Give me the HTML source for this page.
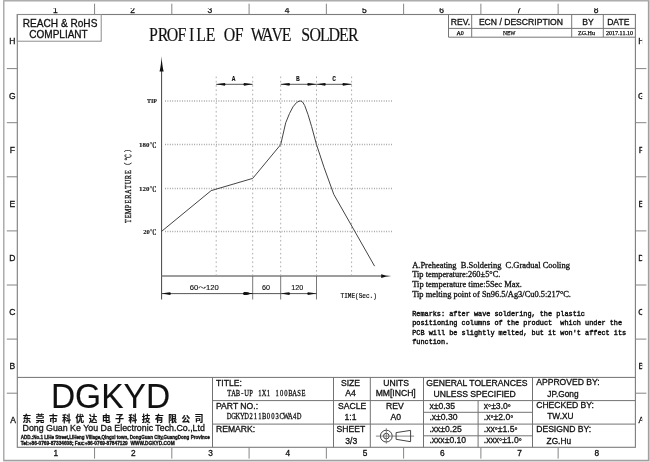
<!DOCTYPE html>
<html lang="en"><head><meta charset="utf-8"><title>PROFILE OF WAVE SOLDER</title>
<style>html,body{margin:0;padding:0;background:#fff;}body{width:650px;height:462px;overflow:hidden;}svg{display:block;}</style></head>
<body>
<svg width="650" height="462" viewBox="0 0 650 462" shape-rendering="auto">
<rect x="0" y="0" width="650" height="462" fill="#fff"/>
<defs><clipPath id="cpT"><rect x="0" y="8.3" width="650" height="10"/></clipPath><clipPath id="cpR"><rect x="630" y="0" width="12.2" height="462"/></clipPath></defs>
<rect x="649" y="0" width="1" height="462" fill="#d2d2d2"/>
<rect x="3.2" y="461" width="646.8" height="1" fill="#dadada"/>
<rect x="3.8" y="0.8" width="644.7" height="459.59999999999997" stroke="#a0a0a0" stroke-width="1.3" fill="none"/>
<rect x="17.3" y="14.5" width="618.1" height="432.8" stroke="#7c7c7c" stroke-width="1.1" fill="none"/>
<line x1="94.5625" y1="3.7" x2="94.5625" y2="14.5" stroke="#858585" stroke-width="1" />
<line x1="94.5625" y1="447.3" x2="94.5625" y2="458.6" stroke="#858585" stroke-width="1" />
<line x1="6.8" y1="68.6" x2="17.3" y2="68.6" stroke="#858585" stroke-width="1" />
<line x1="635.4" y1="68.6" x2="646.4" y2="68.6" stroke="#858585" stroke-width="1" />
<line x1="171.82500000000002" y1="3.7" x2="171.82500000000002" y2="14.5" stroke="#858585" stroke-width="1" />
<line x1="171.82500000000002" y1="447.3" x2="171.82500000000002" y2="458.6" stroke="#858585" stroke-width="1" />
<line x1="6.8" y1="122.7" x2="17.3" y2="122.7" stroke="#858585" stroke-width="1" />
<line x1="635.4" y1="122.7" x2="646.4" y2="122.7" stroke="#858585" stroke-width="1" />
<line x1="249.08750000000003" y1="3.7" x2="249.08750000000003" y2="14.5" stroke="#858585" stroke-width="1" />
<line x1="249.08750000000003" y1="447.3" x2="249.08750000000003" y2="458.6" stroke="#858585" stroke-width="1" />
<line x1="6.8" y1="176.8" x2="17.3" y2="176.8" stroke="#858585" stroke-width="1" />
<line x1="635.4" y1="176.8" x2="646.4" y2="176.8" stroke="#858585" stroke-width="1" />
<line x1="326.35" y1="3.7" x2="326.35" y2="14.5" stroke="#858585" stroke-width="1" />
<line x1="326.35" y1="447.3" x2="326.35" y2="458.6" stroke="#858585" stroke-width="1" />
<line x1="6.8" y1="230.9" x2="17.3" y2="230.9" stroke="#858585" stroke-width="1" />
<line x1="635.4" y1="230.9" x2="646.4" y2="230.9" stroke="#858585" stroke-width="1" />
<line x1="403.6125" y1="3.7" x2="403.6125" y2="14.5" stroke="#858585" stroke-width="1" />
<line x1="403.6125" y1="447.3" x2="403.6125" y2="458.6" stroke="#858585" stroke-width="1" />
<line x1="6.8" y1="285.0" x2="17.3" y2="285.0" stroke="#858585" stroke-width="1" />
<line x1="635.4" y1="285.0" x2="646.4" y2="285.0" stroke="#858585" stroke-width="1" />
<line x1="480.87500000000006" y1="3.7" x2="480.87500000000006" y2="14.5" stroke="#858585" stroke-width="1" />
<line x1="480.87500000000006" y1="447.3" x2="480.87500000000006" y2="458.6" stroke="#858585" stroke-width="1" />
<line x1="6.8" y1="339.1" x2="17.3" y2="339.1" stroke="#858585" stroke-width="1" />
<line x1="635.4" y1="339.1" x2="646.4" y2="339.1" stroke="#858585" stroke-width="1" />
<line x1="558.1374999999999" y1="3.7" x2="558.1374999999999" y2="14.5" stroke="#858585" stroke-width="1" />
<line x1="558.1374999999999" y1="447.3" x2="558.1374999999999" y2="458.6" stroke="#858585" stroke-width="1" />
<line x1="6.8" y1="393.2" x2="17.3" y2="393.2" stroke="#858585" stroke-width="1" />
<line x1="635.4" y1="393.2" x2="646.4" y2="393.2" stroke="#858585" stroke-width="1" />
<g clip-path="url(#cpT)">
<text x="55.3" y="13.3" font-family='"Liberation Sans", "Noto Sans CJK SC", sans-serif' font-size="8.5" text-anchor="middle" fill="#111"  stroke="#111" stroke-width="0.3">1</text>
<text x="132.6" y="13.3" font-family='"Liberation Sans", "Noto Sans CJK SC", sans-serif' font-size="8.5" text-anchor="middle" fill="#111"  stroke="#111" stroke-width="0.3">2</text>
<text x="209.9" y="13.3" font-family='"Liberation Sans", "Noto Sans CJK SC", sans-serif' font-size="8.5" text-anchor="middle" fill="#111"  stroke="#111" stroke-width="0.3">3</text>
<text x="287.1" y="13.3" font-family='"Liberation Sans", "Noto Sans CJK SC", sans-serif' font-size="8.5" text-anchor="middle" fill="#111"  stroke="#111" stroke-width="0.3">4</text>
<text x="364.4" y="13.3" font-family='"Liberation Sans", "Noto Sans CJK SC", sans-serif' font-size="8.5" text-anchor="middle" fill="#111"  stroke="#111" stroke-width="0.3">5</text>
<text x="441.6" y="13.3" font-family='"Liberation Sans", "Noto Sans CJK SC", sans-serif' font-size="8.5" text-anchor="middle" fill="#111"  stroke="#111" stroke-width="0.3">6</text>
<text x="518.9" y="13.3" font-family='"Liberation Sans", "Noto Sans CJK SC", sans-serif' font-size="8.5" text-anchor="middle" fill="#111"  stroke="#111" stroke-width="0.3">7</text>
<text x="596.2" y="13.3" font-family='"Liberation Sans", "Noto Sans CJK SC", sans-serif' font-size="8.5" text-anchor="middle" fill="#111"  stroke="#111" stroke-width="0.3">8</text>
</g>
<text x="55.9" y="455.7" font-family='"Liberation Sans", "Noto Sans CJK SC", sans-serif' font-size="8.3" text-anchor="middle" fill="#111"  stroke="#111" stroke-width="0.3">1</text>
<text x="133.2" y="455.7" font-family='"Liberation Sans", "Noto Sans CJK SC", sans-serif' font-size="8.3" text-anchor="middle" fill="#111"  stroke="#111" stroke-width="0.3">2</text>
<text x="210.5" y="455.7" font-family='"Liberation Sans", "Noto Sans CJK SC", sans-serif' font-size="8.3" text-anchor="middle" fill="#111"  stroke="#111" stroke-width="0.3">3</text>
<text x="287.7" y="455.7" font-family='"Liberation Sans", "Noto Sans CJK SC", sans-serif' font-size="8.3" text-anchor="middle" fill="#111"  stroke="#111" stroke-width="0.3">4</text>
<text x="365.0" y="455.7" font-family='"Liberation Sans", "Noto Sans CJK SC", sans-serif' font-size="8.3" text-anchor="middle" fill="#111"  stroke="#111" stroke-width="0.3">5</text>
<text x="442.2" y="455.7" font-family='"Liberation Sans", "Noto Sans CJK SC", sans-serif' font-size="8.3" text-anchor="middle" fill="#111"  stroke="#111" stroke-width="0.3">6</text>
<text x="519.5" y="455.7" font-family='"Liberation Sans", "Noto Sans CJK SC", sans-serif' font-size="8.3" text-anchor="middle" fill="#111"  stroke="#111" stroke-width="0.3">7</text>
<text x="596.8" y="455.7" font-family='"Liberation Sans", "Noto Sans CJK SC", sans-serif' font-size="8.3" text-anchor="middle" fill="#111"  stroke="#111" stroke-width="0.3">8</text>
<text x="12.3" y="44.4" font-family='"Liberation Sans", "Noto Sans CJK SC", sans-serif' font-size="8.5" text-anchor="middle" fill="#111"  stroke="#111" stroke-width="0.3">H</text>
<text x="12.3" y="98.6" font-family='"Liberation Sans", "Noto Sans CJK SC", sans-serif' font-size="8.5" text-anchor="middle" fill="#111"  stroke="#111" stroke-width="0.3">G</text>
<text x="12.3" y="152.7" font-family='"Liberation Sans", "Noto Sans CJK SC", sans-serif' font-size="8.5" text-anchor="middle" fill="#111"  stroke="#111" stroke-width="0.3">F</text>
<text x="12.3" y="206.8" font-family='"Liberation Sans", "Noto Sans CJK SC", sans-serif' font-size="8.5" text-anchor="middle" fill="#111"  stroke="#111" stroke-width="0.3">E</text>
<text x="12.3" y="260.9" font-family='"Liberation Sans", "Noto Sans CJK SC", sans-serif' font-size="8.5" text-anchor="middle" fill="#111"  stroke="#111" stroke-width="0.3">D</text>
<text x="12.3" y="314.9" font-family='"Liberation Sans", "Noto Sans CJK SC", sans-serif' font-size="8.5" text-anchor="middle" fill="#111"  stroke="#111" stroke-width="0.3">C</text>
<text x="12.3" y="369.1" font-family='"Liberation Sans", "Noto Sans CJK SC", sans-serif' font-size="8.5" text-anchor="middle" fill="#111"  stroke="#111" stroke-width="0.3">B</text>
<text x="13.1" y="423.1" font-family='"Liberation Sans", "Noto Sans CJK SC", sans-serif' font-size="8.5" text-anchor="middle" fill="#111"  stroke="#111" stroke-width="0.3">A</text>
<g clip-path="url(#cpR)">
<text x="641.3" y="44.4" font-family='"Liberation Sans", "Noto Sans CJK SC", sans-serif' font-size="8.5" text-anchor="middle" fill="#111"  stroke="#111" stroke-width="0.3">H</text>
<text x="641.3" y="98.6" font-family='"Liberation Sans", "Noto Sans CJK SC", sans-serif' font-size="8.5" text-anchor="middle" fill="#111"  stroke="#111" stroke-width="0.3">G</text>
<text x="641.3" y="152.7" font-family='"Liberation Sans", "Noto Sans CJK SC", sans-serif' font-size="8.5" text-anchor="middle" fill="#111"  stroke="#111" stroke-width="0.3">F</text>
<text x="641.3" y="206.8" font-family='"Liberation Sans", "Noto Sans CJK SC", sans-serif' font-size="8.5" text-anchor="middle" fill="#111"  stroke="#111" stroke-width="0.3">E</text>
<text x="641.3" y="260.9" font-family='"Liberation Sans", "Noto Sans CJK SC", sans-serif' font-size="8.5" text-anchor="middle" fill="#111"  stroke="#111" stroke-width="0.3">D</text>
<text x="641.3" y="314.9" font-family='"Liberation Sans", "Noto Sans CJK SC", sans-serif' font-size="8.5" text-anchor="middle" fill="#111"  stroke="#111" stroke-width="0.3">C</text>
<text x="641.3" y="369.1" font-family='"Liberation Sans", "Noto Sans CJK SC", sans-serif' font-size="8.5" text-anchor="middle" fill="#111"  stroke="#111" stroke-width="0.3">B</text>
<text x="641.3" y="423.1" font-family='"Liberation Sans", "Noto Sans CJK SC", sans-serif' font-size="8.5" text-anchor="middle" fill="#111"  stroke="#111" stroke-width="0.3">A</text>
</g>
<rect x="17.3" y="14.5" width="83.9" height="26.700000000000003" stroke="#8c8c8c" stroke-width="1" fill="none"/>
<text x="60.1" y="26.6" font-family='"Liberation Sans", "Noto Sans CJK SC", sans-serif' font-size="10.1" text-anchor="middle" fill="#111"  stroke="#111" stroke-width="0.3">REACH &amp; RoHS</text>
<text x="58.5" y="38.4" font-family='"Liberation Sans", "Noto Sans CJK SC", sans-serif' font-size="10.0" text-anchor="middle" fill="#111"  stroke="#111" stroke-width="0.3">COMPLIANT</text>
<text transform="translate(148.7,40.5) scale(0.82,1.0)" x="5.80 17.41 29.02 40.63 52.24 63.85 75.46 87.07 98.68 110.29 121.90 133.51 145.12 156.73 168.34 179.95 191.56 203.17 214.78 226.39 238.00 249.61" y="0" text-anchor="middle" font-family='"Liberation Serif", "Noto Serif CJK SC", serif' font-size="19.4" stroke="#111" stroke-width="0.15" fill="#111" xml:space="preserve">PROFILE OF WAVE SOLDER</text>
<line x1="448.5" y1="14.5" x2="448.5" y2="37.2" stroke="#777" stroke-width="1" />
<line x1="448.5" y1="28.4" x2="635.4" y2="28.4" stroke="#777" stroke-width="1" />
<line x1="448.5" y1="37.2" x2="635.4" y2="37.2" stroke="#777" stroke-width="1" />
<line x1="471.7" y1="14.5" x2="471.7" y2="37.2" stroke="#777" stroke-width="1" />
<line x1="571.7" y1="14.5" x2="571.7" y2="37.2" stroke="#777" stroke-width="1" />
<line x1="603.3" y1="14.5" x2="603.3" y2="37.2" stroke="#777" stroke-width="1" />
<text x="460.5" y="25.0" font-family='"Liberation Sans", "Noto Sans CJK SC", sans-serif' font-size="8.6" text-anchor="middle" fill="#111"  stroke="#111" stroke-width="0.3">REV.</text>
<text x="520.9" y="25.0" font-family='"Liberation Sans", "Noto Sans CJK SC", sans-serif' font-size="8.6" text-anchor="middle" fill="#111"  stroke="#111" stroke-width="0.3">ECN / DESCRIPTION</text>
<text x="587.9" y="25.0" font-family='"Liberation Sans", "Noto Sans CJK SC", sans-serif' font-size="8.6" text-anchor="middle" fill="#111"  stroke="#111" stroke-width="0.3">BY</text>
<text x="618.3" y="25.0" font-family='"Liberation Sans", "Noto Sans CJK SC", sans-serif' font-size="8.6" text-anchor="middle" fill="#111"  stroke="#111" stroke-width="0.3">DATE</text>
<text x="460.1" y="34.8" font-family='"Liberation Serif", "Noto Serif CJK SC", serif' font-size="6" text-anchor="middle" fill="#111"  stroke="#111" stroke-width="0.25">A0</text>
<text x="509.2" y="34.8" font-family='"Liberation Serif", "Noto Serif CJK SC", serif' font-size="6" text-anchor="middle" textLength="12.6" lengthAdjust="spacingAndGlyphs" fill="#111"  stroke="#111" stroke-width="0.25">NEW</text>
<text x="586.5" y="34.8" font-family='"Liberation Serif", "Noto Serif CJK SC", serif' font-size="6" text-anchor="middle" textLength="17.0" lengthAdjust="spacingAndGlyphs" fill="#111"  stroke="#111" stroke-width="0.25">ZG.Hu</text>
<text x="619.5" y="34.8" font-family='"Liberation Serif", "Noto Serif CJK SC", serif' font-size="6" text-anchor="middle" textLength="27.2" lengthAdjust="spacingAndGlyphs" fill="#111"  stroke="#111" stroke-width="0.25">2017.11.10</text>
<line x1="165" y1="100.9" x2="392" y2="100.9" stroke="#a0a0a0" stroke-width="1.5" stroke-dasharray="0.9 1.53"/>
<line x1="165" y1="144.6" x2="392" y2="144.6" stroke="#a0a0a0" stroke-width="1.5" stroke-dasharray="0.9 1.53"/>
<line x1="165" y1="188.5" x2="392" y2="188.5" stroke="#a0a0a0" stroke-width="1.5" stroke-dasharray="0.9 1.53"/>
<line x1="165" y1="231.5" x2="392" y2="231.5" stroke="#a0a0a0" stroke-width="1.5" stroke-dasharray="0.9 1.53"/>
<line x1="216.2" y1="76.5" x2="216.2" y2="275.1" stroke="#a8a8a8" stroke-width="0.9" stroke-dasharray="1.7 2.6"/>
<line x1="252.7" y1="76.5" x2="252.7" y2="275.1" stroke="#a8a8a8" stroke-width="0.9" stroke-dasharray="1.7 2.6"/>
<line x1="280.7" y1="76.5" x2="280.7" y2="275.1" stroke="#a8a8a8" stroke-width="0.9" stroke-dasharray="1.7 2.6"/>
<line x1="316.5" y1="76.5" x2="316.5" y2="275.1" stroke="#a8a8a8" stroke-width="0.9" stroke-dasharray="1.7 2.6"/>
<line x1="351.6" y1="76.5" x2="351.6" y2="275.1" stroke="#a8a8a8" stroke-width="0.9" stroke-dasharray="1.7 2.6"/>
<line x1="161.6" y1="70" x2="161.6" y2="299.5" stroke="#444" stroke-width="1" />
<line x1="161.6" y1="276.1" x2="383" y2="276.1" stroke="#7c7c7c" stroke-width="1.5" />
<path d="M161.6,56.2 Q161.0,66 159.5,71.6 L163.7,71.6 Q162.2,66 161.6,56.2 Z" fill="#111"/>
<path d="M391.4,276.1 Q385,275.6 381.2,274.20000000000005 L381.2,278.0 Q385,276.6 391.4,276.1 Z" fill="#111"/>
<polyline fill="none" stroke="#444" stroke-width="1" stroke-linejoin="round" points="161.4,231.5 211.2,190.6 252.7,178.4 280.7,144.6 285.7,122.8 289.5,113.5 293,106.8 296.5,102.6 299,101.2 300.8,101.0 302.6,102.0 304.7,105.5 308,114.5 311.6,126.5 316.5,144.6 324,167.3 333.8,194.4 374.6,266.2"/>
<line x1="216.2" y1="84.3" x2="252.7" y2="84.3" stroke="#444" stroke-width="0.9" />
<path d="M216.2,84.3 Q221.0,83.49 224.79999999999998,82.95 Q226.39999999999998,84.3 224.79999999999998,85.64999999999999 Q221.0,85.11 216.2,84.3 Z" fill="#111"/>
<path d="M252.7,84.3 Q247.89999999999998,83.49 244.1,82.95 Q242.5,84.3 244.1,85.64999999999999 Q247.89999999999998,85.11 252.7,84.3 Z" fill="#111"/>
<line x1="280.7" y1="84.3" x2="316.5" y2="84.3" stroke="#444" stroke-width="0.9" />
<path d="M280.7,84.3 Q285.5,83.49 289.3,82.95 Q290.90000000000003,84.3 289.3,85.64999999999999 Q285.5,85.11 280.7,84.3 Z" fill="#111"/>
<path d="M316.5,84.3 Q311.7,83.49 307.9,82.95 Q306.29999999999995,84.3 307.9,85.64999999999999 Q311.7,85.11 316.5,84.3 Z" fill="#111"/>
<line x1="316.5" y1="84.3" x2="351.6" y2="84.3" stroke="#444" stroke-width="0.9" />
<path d="M316.5,84.3 Q321.3,83.49 325.1,82.95 Q326.70000000000005,84.3 325.1,85.64999999999999 Q321.3,85.11 316.5,84.3 Z" fill="#111"/>
<path d="M351.6,84.3 Q346.8,83.49 343.0,82.95 Q341.4,84.3 343.0,85.64999999999999 Q346.8,85.11 351.6,84.3 Z" fill="#111"/>
<text transform="translate(231.5,81.2) scale(0.95,1.0)" x="2.32" y="0" text-anchor="middle" font-family='"Liberation Mono", "Noto Sans CJK SC", monospace' font-size="6.5" font-weight="bold" stroke="#111" stroke-width="0.08" fill="#111" xml:space="preserve">A</text>
<text transform="translate(295.7,81.2) scale(0.95,1.0)" x="2.32" y="0" text-anchor="middle" font-family='"Liberation Mono", "Noto Sans CJK SC", monospace' font-size="6.5" font-weight="bold" stroke="#111" stroke-width="0.08" fill="#111" xml:space="preserve">B</text>
<text transform="translate(332.0,81.2) scale(0.95,1.0)" x="2.32" y="0" text-anchor="middle" font-family='"Liberation Mono", "Noto Sans CJK SC", monospace' font-size="6.5" font-weight="bold" stroke="#111" stroke-width="0.08" fill="#111" xml:space="preserve">C</text>
<line x1="252.7" y1="276.1" x2="252.7" y2="299.5" stroke="#555" stroke-width="0.8" />
<line x1="280.7" y1="276.1" x2="280.7" y2="299.5" stroke="#555" stroke-width="0.8" />
<line x1="316.5" y1="276.1" x2="316.5" y2="299.5" stroke="#555" stroke-width="0.8" />
<line x1="161.6" y1="293.6" x2="316.5" y2="293.6" stroke="#444" stroke-width="0.9" />
<path d="M161.6,293.6 Q166.4,292.79 170.2,292.25 Q171.79999999999998,293.6 170.2,294.95000000000005 Q166.4,294.41 161.6,293.6 Z" fill="#111"/>
<path d="M252.7,293.6 Q247.89999999999998,292.79 244.1,292.25 Q242.5,293.6 244.1,294.95000000000005 Q247.89999999999998,294.41 252.7,293.6 Z" fill="#111"/>
<path d="M252.7,293.6 Q247.89999999999998,292.79 244.1,292.25 Q242.5,293.6 244.1,294.95000000000005 Q247.89999999999998,294.41 252.7,293.6 Z" fill="#111"/>
<path d="M252.7,293.6 Q247.89999999999998,292.79 244.1,292.25 Q242.5,293.6 244.1,294.95000000000005 Q247.89999999999998,294.41 252.7,293.6 Z" fill="#111"/>
<path d="M280.7,293.6 Q285.5,292.79 289.3,292.25 Q290.90000000000003,293.6 289.3,294.95000000000005 Q285.5,294.41 280.7,293.6 Z" fill="#111"/>
<path d="M316.5,293.6 Q311.7,292.79 307.9,292.25 Q306.29999999999995,293.6 307.9,294.95000000000005 Q311.7,294.41 316.5,293.6 Z" fill="#111"/>
<path d="M252.7,293.6 Q247.89999999999998,292.79 244.1,292.25 Q242.5,293.6 244.1,294.95000000000005 Q247.89999999999998,294.41 252.7,293.6 Z" fill="#111"/>
<text x="204.2" y="290.0" font-family='"Liberation Sans", "Noto Sans CJK SC", sans-serif' font-size="6.8" text-anchor="middle" textLength="29" lengthAdjust="spacingAndGlyphs" fill="#111"  stroke="#111" stroke-width="0.12">60～120</text>
<text x="266" y="290.0" font-family='"Liberation Sans", "Noto Sans CJK SC", sans-serif' font-size="6.8" text-anchor="middle" textLength="8" lengthAdjust="spacingAndGlyphs" fill="#111"  stroke="#111" stroke-width="0.12">60</text>
<text x="297.3" y="289.6" font-family='"Liberation Sans", "Noto Sans CJK SC", sans-serif' font-size="6.8" text-anchor="middle" textLength="12" lengthAdjust="spacingAndGlyphs" fill="#111"  stroke="#111" stroke-width="0.12">120</text>
<text x="358.7" y="297.6" font-family='"Liberation Mono", "Noto Sans CJK SC", monospace' font-size="6.3" text-anchor="middle" textLength="36.4" lengthAdjust="spacingAndGlyphs" fill="#111"  stroke="#111" stroke-width="0.2">TIME(Sec.)</text>
<text x="157" y="103.0" font-family='"Liberation Serif", "Noto Serif CJK SC", serif' font-size="5.6" text-anchor="end" textLength="10" lengthAdjust="spacingAndGlyphs" font-weight="bold" fill="#111"  stroke="#111" stroke-width="0.1">TIP</text>
<text x="156.4" y="146.7" font-family='"Liberation Serif", "Noto Serif CJK SC", serif' font-size="5.6" text-anchor="end" textLength="17.4" lengthAdjust="spacingAndGlyphs" font-weight="bold" fill="#111"  stroke="#111" stroke-width="0.1">180℃</text>
<text x="156.4" y="190.6" font-family='"Liberation Serif", "Noto Serif CJK SC", serif' font-size="5.6" text-anchor="end" textLength="17.4" lengthAdjust="spacingAndGlyphs" font-weight="bold" fill="#111"  stroke="#111" stroke-width="0.1">120℃</text>
<text x="156.4" y="233.6" font-family='"Liberation Serif", "Noto Serif CJK SC", serif' font-size="5.6" text-anchor="end" textLength="13.2" lengthAdjust="spacingAndGlyphs" font-weight="bold" fill="#111"  stroke="#111" stroke-width="0.1">20℃</text>
<text transform="translate(131.0,223.6) rotate(-90) scale(0.8,1)" x="3.06 9.19 15.31 21.44 27.56 33.69 39.81 45.94 52.06 58.19 64.31 72.56 82.94 93.31" y="0" text-anchor="middle" font-family='"Liberation Serif", "Noto Serif CJK SC", serif' font-size="8" fill="#111" stroke="#111" stroke-width="0.3">TEMPERATURE（℃）</text>
<text x="412.2" y="267.6" font-family='"Liberation Serif", "Noto Serif CJK SC", serif' font-size="8.3" textLength="157.7" lengthAdjust="spacingAndGlyphs" fill="#111" xml:space="preserve" stroke="#111" stroke-width="0.3">A.Preheating  B.Soldering  C.Gradual Cooling</text>
<text x="412.2" y="277.0" font-family='"Liberation Serif", "Noto Serif CJK SC", serif' font-size="8.3" textLength="88.2" lengthAdjust="spacingAndGlyphs" fill="#111"  stroke="#111" stroke-width="0.3">Tip temperature:260±5°C.</text>
<text x="412.2" y="287.3" font-family='"Liberation Serif", "Noto Serif CJK SC", serif' font-size="8.3" textLength="109.7" lengthAdjust="spacingAndGlyphs" fill="#111"  stroke="#111" stroke-width="0.3">Tip temperature time:5Sec Max.</text>
<text x="412.2" y="296.9" font-family='"Liberation Serif", "Noto Serif CJK SC", serif' font-size="8.3" textLength="158.8" lengthAdjust="spacingAndGlyphs" fill="#111"  stroke="#111" stroke-width="0.3">Tip melting point of Sn96.5/Ag3/Cu0.5:217°C.</text>
<text x="412.2" y="315.6" font-family='"Liberation Mono", "Noto Sans CJK SC", monospace' font-size="6.85" textLength="172.8" lengthAdjust="spacingAndGlyphs" fill="#111" xml:space="preserve" stroke="#111" stroke-width="0.42">Remarks: after wave soldering, the plastic</text>
<text x="412.2" y="325.2" font-family='"Liberation Mono", "Noto Sans CJK SC", monospace' font-size="6.85" textLength="209.9" lengthAdjust="spacingAndGlyphs" fill="#111" xml:space="preserve" stroke="#111" stroke-width="0.42">positioning columns of the product  which under the</text>
<text x="412.2" y="334.8" font-family='"Liberation Mono", "Noto Sans CJK SC", monospace' font-size="6.85" textLength="214.0" lengthAdjust="spacingAndGlyphs" fill="#111" xml:space="preserve" stroke="#111" stroke-width="0.42">PCB will be slightly melted, but it won't affect its</text>
<text x="412.2" y="343.8" font-family='"Liberation Mono", "Noto Sans CJK SC", monospace' font-size="6.85" textLength="37.0" lengthAdjust="spacingAndGlyphs" fill="#111" xml:space="preserve" stroke="#111" stroke-width="0.42">function.</text>
<line x1="17.3" y1="377.4" x2="635.4" y2="377.4" stroke="#727272" stroke-width="1" />
<line x1="212.5" y1="377.4" x2="212.5" y2="447.3" stroke="#727272" stroke-width="1" />
<line x1="333.5" y1="377.4" x2="333.5" y2="447.3" stroke="#727272" stroke-width="1" />
<line x1="370.3" y1="377.4" x2="370.3" y2="447.3" stroke="#727272" stroke-width="1" />
<line x1="423.5" y1="377.4" x2="423.5" y2="447.3" stroke="#727272" stroke-width="1" />
<line x1="532.5" y1="377.4" x2="532.5" y2="447.3" stroke="#727272" stroke-width="1" />
<line x1="212.5" y1="400.6" x2="635.4" y2="400.6" stroke="#727272" stroke-width="1" />
<line x1="212.5" y1="424.1" x2="635.4" y2="424.1" stroke="#727272" stroke-width="1" />
<line x1="423.5" y1="412.3" x2="532.5" y2="412.3" stroke="#727272" stroke-width="1" />
<line x1="423.5" y1="435.8" x2="532.5" y2="435.8" stroke="#727272" stroke-width="1" />
<line x1="478.1" y1="400.6" x2="478.1" y2="447.3" stroke="#727272" stroke-width="1" />
<text x="110.5" y="407.9" font-family='"Liberation Sans", "Noto Sans CJK SC", sans-serif' font-size="35.2" text-anchor="middle" textLength="119.2" lengthAdjust="spacingAndGlyphs" fill="#111"  stroke="#111" stroke-width="0.1">DGKYD</text>
<text transform="translate(20.3,421.8) scale(1.0,1.0)" x="6.62 19.88 33.12 46.38 59.62 72.88 86.12 99.38 112.62 125.88 139.12 152.38 165.62 178.88" y="0" text-anchor="middle" font-family='"Noto Sans CJK SC", sans-serif' font-size="8.6" font-weight="bold" stroke="#111" stroke-width="0.22" fill="#111" xml:space="preserve">东莞市科优达电子科技有限公司</text>
<text x="22.5" y="431.1" font-family='"Liberation Sans", "Noto Sans CJK SC", sans-serif' font-size="9.4" textLength="182.4" lengthAdjust="spacingAndGlyphs" fill="#111"  stroke="#111" stroke-width="0.3">Dong Guan Ke You Da Electronic Tech.Co.,Ltd</text>
<text x="20.7" y="438.5" font-family='"Liberation Sans", "Noto Sans CJK SC", sans-serif' font-size="4.7" textLength="189" lengthAdjust="spacingAndGlyphs" font-weight="bold" fill="#111"  stroke="#111" stroke-width="0.3">ADD.:No.1 LiHe Street,LiHeng Village,Qingxi town, DongGuan City,GuangDong Province</text>
<text x="20.7" y="444.6" font-family='"Liberation Sans", "Noto Sans CJK SC", sans-serif' font-size="4.7" textLength="154" lengthAdjust="spacingAndGlyphs" font-weight="bold" fill="#111" xml:space="preserve" stroke="#111" stroke-width="0.3">Tel:+86-0769-87334608; Fax:+86-0769-87847129  WWW.DGKYD.COM</text>
<text x="216.0" y="385.6" font-family='"Liberation Sans", "Noto Sans CJK SC", sans-serif' font-size="8.6" fill="#111"  stroke="#111" stroke-width="0.3">TITLE:</text>
<text x="216.0" y="408.8" font-family='"Liberation Sans", "Noto Sans CJK SC", sans-serif' font-size="8.6" fill="#111"  stroke="#111" stroke-width="0.3">PART NO.:</text>
<text x="216.0" y="432.4" font-family='"Liberation Sans", "Noto Sans CJK SC", sans-serif' font-size="8.6" fill="#111"  stroke="#111" stroke-width="0.3">REMARK:</text>
<text transform="translate(227.0,395.7) scale(0.76,1.0)" x="2.88 8.62 14.38 20.12 25.88 31.62 37.38 43.12 48.88 54.62 60.38 66.12 71.88 77.62 83.38 89.12 94.88 100.63" y="0" text-anchor="middle" font-family='"Liberation Serif", "Noto Serif CJK SC", serif' font-size="8.6" stroke="#111" stroke-width="0.3" fill="#111" xml:space="preserve">TAB-UP 1X1 100BASE</text>
<text transform="translate(227.0,419.4) scale(0.76,1.0)" x="2.88 8.62 14.38 20.12 25.88 31.62 37.38 43.12 48.88 54.62 60.38 66.12 71.88 77.62 83.38 89.12 94.88" y="0" text-anchor="middle" font-family='"Liberation Serif", "Noto Serif CJK SC", serif' font-size="8.6" stroke="#111" stroke-width="0.3" fill="#111" xml:space="preserve">DGKYD211B003CWA4D</text>
<text x="350.5" y="385.8" font-family='"Liberation Sans", "Noto Sans CJK SC", sans-serif' font-size="8.6" text-anchor="middle" fill="#111"  stroke="#111" stroke-width="0.3">SIZE</text>
<text x="350.5" y="396.0" font-family='"Liberation Sans", "Noto Sans CJK SC", sans-serif' font-size="8.6" text-anchor="middle" fill="#111"  stroke="#111" stroke-width="0.3">A4</text>
<text x="352.1" y="409.1" font-family='"Liberation Sans", "Noto Sans CJK SC", sans-serif' font-size="8.6" text-anchor="middle" fill="#111"  stroke="#111" stroke-width="0.3">SACLE</text>
<text x="350.5" y="419.8" font-family='"Liberation Sans", "Noto Sans CJK SC", sans-serif' font-size="8.6" text-anchor="middle" fill="#111"  stroke="#111" stroke-width="0.3">1:1</text>
<text x="350.9" y="432.3" font-family='"Liberation Sans", "Noto Sans CJK SC", sans-serif' font-size="8.6" text-anchor="middle" fill="#111"  stroke="#111" stroke-width="0.3">SHEET</text>
<text x="351.2" y="443.5" font-family='"Liberation Sans", "Noto Sans CJK SC", sans-serif' font-size="8.6" text-anchor="middle" fill="#111"  stroke="#111" stroke-width="0.3">3/3</text>
<text x="396.2" y="385.8" font-family='"Liberation Sans", "Noto Sans CJK SC", sans-serif' font-size="8.6" text-anchor="middle" fill="#111"  stroke="#111" stroke-width="0.3">UNITS</text>
<text x="395.7" y="396.0" font-family='"Liberation Sans", "Noto Sans CJK SC", sans-serif' font-size="8.6" text-anchor="middle" fill="#111"  stroke="#111" stroke-width="0.3">MM[INCH]</text>
<text x="394.9" y="409.1" font-family='"Liberation Sans", "Noto Sans CJK SC", sans-serif' font-size="8.6" text-anchor="middle" fill="#111"  stroke="#111" stroke-width="0.3">REV</text>
<text x="395.8" y="419.8" font-family='"Liberation Sans", "Noto Sans CJK SC", sans-serif' font-size="8.6" text-anchor="middle" fill="#111"  stroke="#111" stroke-width="0.3">A0</text>
<text x="426.3" y="385.8" font-family='"Liberation Sans", "Noto Sans CJK SC", sans-serif' font-size="8.6" fill="#111"  stroke="#111" stroke-width="0.3">GENERAL TOLERANCES</text>
<text x="433.6" y="396.9" font-family='"Liberation Sans", "Noto Sans CJK SC", sans-serif' font-size="8.6" fill="#111"  stroke="#111" stroke-width="0.3">UNLESS SPECIFIED</text>
<text x="429.4" y="408.7" font-family='"Liberation Sans", "Noto Sans CJK SC", sans-serif' font-size="8.6" fill="#111"  stroke="#111" stroke-width="0.3">x±0.35</text>
<text x="429.4" y="420.0" font-family='"Liberation Sans", "Noto Sans CJK SC", sans-serif' font-size="8.6" fill="#111"  stroke="#111" stroke-width="0.3">.x±0.30</text>
<text x="429.4" y="431.9" font-family='"Liberation Sans", "Noto Sans CJK SC", sans-serif' font-size="8.6" fill="#111"  stroke="#111" stroke-width="0.3">.xx±0.25</text>
<text x="429.4" y="443.3" font-family='"Liberation Sans", "Noto Sans CJK SC", sans-serif' font-size="8.6" fill="#111"  stroke="#111" stroke-width="0.3">.xxx±0.10</text>
<text x="483.8" y="408.7" font-family='"Liberation Sans", "Noto Sans CJK SC", sans-serif' font-size="8.6" fill="#111" stroke="#111" stroke-width="0.3">x<tspan font-size="7.6" dy="1">°</tspan><tspan dy="-1">±3.0</tspan><tspan font-size="7.6" dy="1">°</tspan></text>
<text x="483.8" y="420.0" font-family='"Liberation Sans", "Noto Sans CJK SC", sans-serif' font-size="8.6" fill="#111" stroke="#111" stroke-width="0.3">.x<tspan font-size="7.6" dy="1">°</tspan><tspan dy="-1">±2.0</tspan><tspan font-size="7.6" dy="1">°</tspan></text>
<text x="483.8" y="431.9" font-family='"Liberation Sans", "Noto Sans CJK SC", sans-serif' font-size="8.6" fill="#111" stroke="#111" stroke-width="0.3">.xx<tspan font-size="7.6" dy="1">°</tspan><tspan dy="-1">±1.5</tspan><tspan font-size="7.6" dy="1">°</tspan></text>
<text x="483.8" y="443.3" font-family='"Liberation Sans", "Noto Sans CJK SC", sans-serif' font-size="8.6" fill="#111" stroke="#111" stroke-width="0.3">.xxx<tspan font-size="7.6" dy="1">°</tspan><tspan dy="-1">±1.0</tspan><tspan font-size="7.6" dy="1">°</tspan></text>
<text x="536.2" y="385.3" font-family='"Liberation Sans", "Noto Sans CJK SC", sans-serif' font-size="8.6" fill="#111"  stroke="#111" stroke-width="0.3">APPROVED BY:</text>
<text x="547.3" y="396.6" font-family='"Liberation Sans", "Noto Sans CJK SC", sans-serif' font-size="8.3" fill="#111"  stroke="#111" stroke-width="0.3">JP.Gong</text>
<text x="536.2" y="408.3" font-family='"Liberation Sans", "Noto Sans CJK SC", sans-serif' font-size="8.6" fill="#111"  stroke="#111" stroke-width="0.3">CHECKED BY:</text>
<text x="547.3" y="419.4" font-family='"Liberation Sans", "Noto Sans CJK SC", sans-serif' font-size="8.3" fill="#111"  stroke="#111" stroke-width="0.3">TW.XU</text>
<text x="536.2" y="432.1" font-family='"Liberation Sans", "Noto Sans CJK SC", sans-serif' font-size="8.6" fill="#111"  stroke="#111" stroke-width="0.3">DESIGND BY:</text>
<text x="546.6" y="443.8" font-family='"Liberation Sans", "Noto Sans CJK SC", sans-serif' font-size="8.3" fill="#111"  stroke="#111" stroke-width="0.3">ZG.Hu</text>
<circle cx="386.3" cy="436.1" r="5.9" fill="none" stroke="#444" stroke-width="1"/>
<circle cx="386.3" cy="436.1" r="2.8" fill="none" stroke="#444" stroke-width="1"/>
<line x1="375.9" y1="436.1" x2="414.1" y2="436.1" stroke="#666" stroke-width="0.8" />
<line x1="386.3" y1="428.2" x2="386.3" y2="443.6" stroke="#666" stroke-width="0.8" />
<polygon points="396.1,432.6 410.6,430.4 410.6,441.7 396.1,439.3" fill="none" stroke="#444" stroke-width="1"/>
</svg>
</body></html>
